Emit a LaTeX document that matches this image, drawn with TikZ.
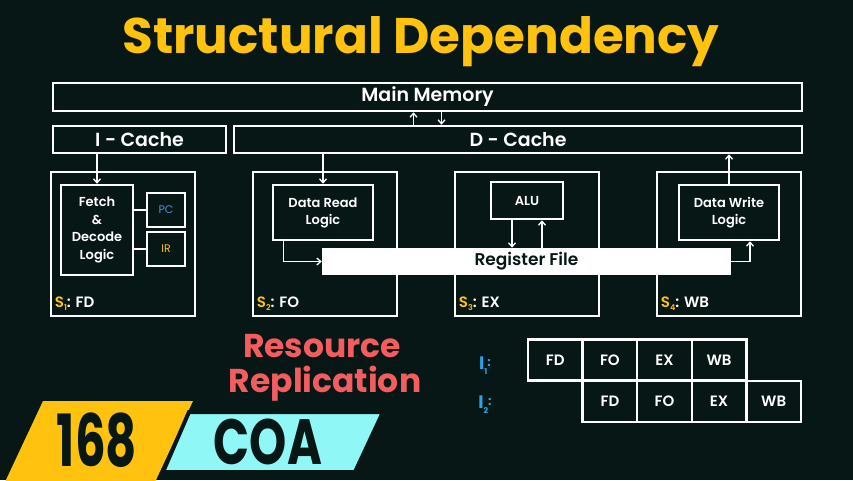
\documentclass[tikz,border=0pt]{standalone}
\usepackage{fontspec}
\setmainfont{Poppins}
\newfontfamily\medfont{Poppins SemiBold}
\usetikzlibrary{arrows.meta,positioning,calc}
\definecolor{board}{HTML}{071715}
\definecolor{gold}{HTML}{FFC20E}
\definecolor{sky}{HTML}{2BA3E8}
\definecolor{coral}{HTML}{F45D5F}
\definecolor{aqua}{HTML}{8FF8F6}
\definecolor{pcblue}{HTML}{4A8FE0}

\begin{document}
\begin{tikzpicture}[x=1pt,y=-1pt,
  box/.style={draw=white,line width=2.5pt,text=white,align=center,inner sep=0pt},
  stage/.style={box,minimum width=144pt,minimum height=144pt},
  arr/.style={-{Straight Barb[length=4pt,width=7pt]},line width=1.3pt,white},
  cell/.style={box,minimum width=54.6pt,minimum height=41pt,font=\medfont\fontsize{15}{18}\selectfont}]
\useasboundingbox (0,0) rectangle (853,480);
\fill[board] (0,0) rectangle (853,480);

% title
\node[text=gold,font=\bfseries\fontsize{50}{56}\selectfont,anchor=base] (title) at (421,53) {Structural Dependency};

% memories
\node[box,minimum width=749pt,minimum height=28pt,font=\medfont\fontsize{19}{22}\selectfont] (mem) at (427.5,97) {Main Memory};
\node[box,minimum width=173pt,minimum height=27pt,font=\medfont\fontsize{19}{22}\selectfont] (icache) at (139.5,139.5) {I - Cache};
\node[box,minimum width=568pt,minimum height=27pt,font=\medfont\fontsize{19}{22}\selectfont] (dcache) at (518,139.5) {D - Cache};
\draw[arr] ([xshift=-14pt]mem.south |- dcache.north) -- ([xshift=-14pt]mem.south);
\draw[arr] ([xshift=14pt]mem.south) -- ([xshift=14pt]mem.south |- dcache.north);

% pipeline stages
\foreach \n/\x in {1/123,2/325,3/527,4/729}
  \node[stage] (s\n) at (\x,244) {};
\foreach \n/\t in {1/FD,2/FO,3/EX,4/WB}
  \node[text=white,anchor=base west,inner sep=0pt,font=\medfont\fontsize{15}{18}\selectfont] at ([xshift=5pt,yshift=10pt]s\n.south west) {\textcolor{gold}{S\raisebox{-3.5pt}{\fontsize{8}{9}\selectfont\n}}: \t};

% stage 1
\node[box,minimum width=72pt,minimum height=90pt,font=\medfont\fontsize{13}{17.5}\selectfont] (fetch) at (97,230) {Fetch\\\&\\Decode\\Logic};
\node[box,minimum width=38pt,minimum height=34pt,text=pcblue,font=\fontsize{11}{13}\selectfont] (pc) at (166,210) {PC};
\node[box,minimum width=38pt,minimum height=34pt,text=gold,font=\fontsize{11}{13}\selectfont] (ir) at (166,249) {IR};
\draw[white,line width=2pt] (fetch.east |- pc.west) -- (pc.west);
\draw[white,line width=2pt] (fetch.east |- ir.west) -- (ir.west);
\draw[arr] (icache.south -| fetch.north) -- (fetch.north);

% register file and logic
\node[box,fill=white,text=board,minimum width=407pt,minimum height=25pt,font=\medfont\fontsize{17}{20}\selectfont] (regfile) at (526.5,261.5) {Register File};
\node[box,minimum width=100pt,minimum height=55pt,font=\medfont\fontsize{13}{17}\selectfont] (drl) at (323,212.5) {Data Read\\Logic};
\node[box,minimum width=72pt,minimum height=37pt,font=\medfont\fontsize{13}{17}\selectfont] (alu) at (527,200.5) {ALU};
\node[box,minimum width=100pt,minimum height=55pt,font=\medfont\fontsize{13}{17}\selectfont] (dwl) at (729,212.5) {Data Write\\Logic};
\draw[arr] (dcache.south -| drl.north) -- (drl.north);
\draw[arr] ([xshift=12pt]drl.south west) |- (regfile.west);
\draw[arr] ([xshift=-15pt]alu.south) -- ([xshift=-15pt]alu.south |- regfile.north);
\draw[arr] ([xshift=15pt]alu.south |- regfile.north) -- ([xshift=15pt]alu.south);
\draw[arr] (regfile.east) -| ([xshift=21pt]dwl.south);
\draw[arr] (dwl.north) -- (dwl.north |- dcache.south);

% resource replication
\node[text=coral,font=\bfseries\fontsize{33}{38}\selectfont,anchor=base] (res) at (322,357) {Resource};
\node[text=coral,font=\bfseries\fontsize{33}{38}\selectfont,anchor=base] (repl) at (325,392) {Replication};

% space-time table
\foreach \t [count=\i] in {FD,FO,EX,WB}
  \node[cell] (a\i) at (500.7+54.6*\i,360) {\t};
\foreach \t [count=\i] in {FD,FO,EX,WB}
  \node[cell] (b\i) at (555.3+54.6*\i,401.5) {\t};
\node[text=sky,font=\bfseries\fontsize{18}{20}\selectfont] (i1) at (485,366) {I\raisebox{-5pt}{\fontsize{8}{9}\selectfont 1}\raisebox{3pt}{\fontsize{12}{14}\selectfont:}};
\node[text=sky,font=\bfseries\fontsize{18}{20}\selectfont] (i2) at (485,405) {I\raisebox{-5pt}{\fontsize{8}{9}\selectfont 2}\raisebox{3pt}{\fontsize{12}{14}\selectfont:}};

% badge
\fill[gold] (43,401) -- (193,401) -- (155,482) -- (5,482) -- cycle;
\draw[fill=aqua,draw=board,line width=4pt] (189,412) -- (383,412) -- (355,472) -- (163,472) -- cycle;
\node[text=board,inner sep=0pt,font=\bfseries\fontsize{72}{74}\selectfont] (num) at (97,440) {\scalebox{0.67}[1]{168}};
\node[text=board,inner sep=0pt,font=\bfseries\fontsize{64}{66}\selectfont] (coa) at (268,442) {\scalebox{0.74}[1]{COA}};
\end{tikzpicture}
\end{document}
